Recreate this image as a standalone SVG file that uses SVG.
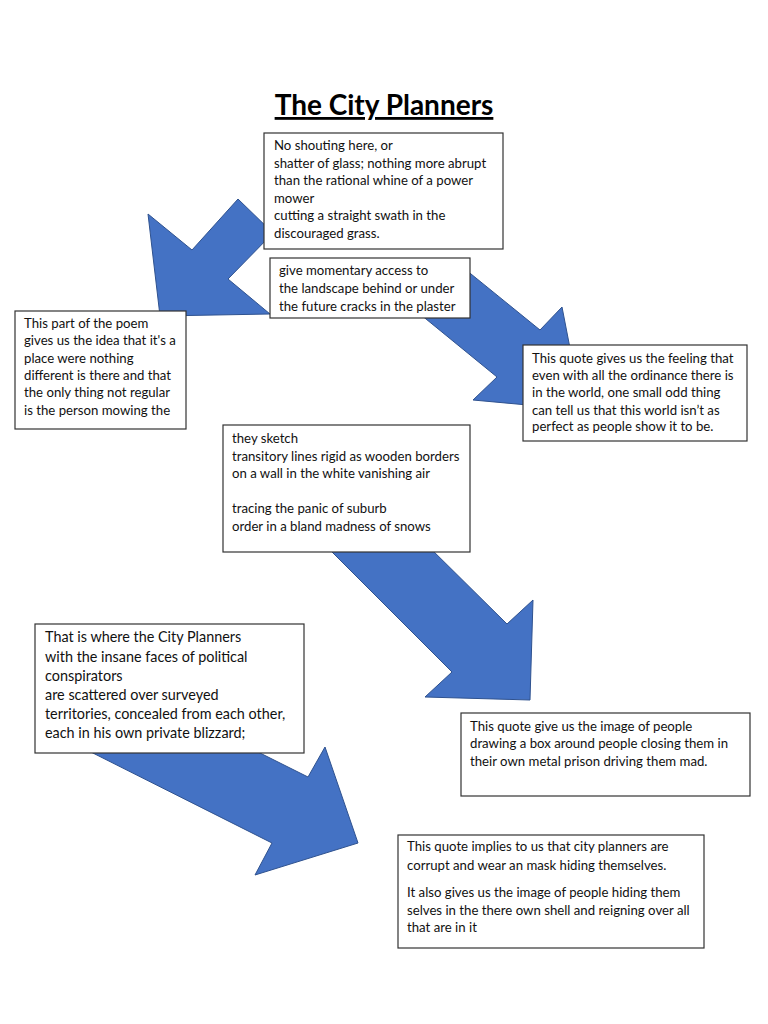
<svg xmlns="http://www.w3.org/2000/svg" width="768" height="1024" viewBox="0 0 768 1024">
<style>
.arrow{fill:#4472C4;stroke:#2F528F;stroke-width:1;stroke-linejoin:miter}
.box{fill:#ffffff;stroke:#333333;stroke-width:1.2}
.t{font-family:Lato,"Open Sans",sans-serif;font-size:13.2px;fill:#111111}
.t2{font-family:Lato,"Open Sans",sans-serif;font-size:14.4px;fill:#111111}
.title{font-family:Lato,"Open Sans",sans-serif;font-size:28px;font-weight:bold;fill:#000000}
</style>
<rect width="768" height="1024" fill="#ffffff"/>
<g id="title">
<text class="title" x="384" y="115" text-anchor="middle" text-decoration="underline">The City Planners</text>
</g>
<g id="connectors">
<polygon class="arrow" points="160,316 148,214 192,250 238,199 273,233 228,279 270,314"/>
<polygon class="arrow" points="455,261 540,330 562,307 582,410 473,400 497,377 415,310"/>
<polygon class="arrow" points="320,540 452,672 425,697 530,700 533,600 507,624 422,540"/>
<polygon class="arrow" points="67,740 272,843 255,875 358,843 325,747 308,777 234,740"/>
</g>
<g id="box-a">
<rect class="box" x="264" y="133" width="239" height="116"/>
<text class="t" x="274" y="150">No shouting here, or</text>
<text class="t" x="274" y="167.5">shatter of glass; nothing more abrupt</text>
<text class="t" x="274" y="185">than the rational whine of a power</text>
<text class="t" x="274" y="202.5">mower</text>
<text class="t" x="274" y="220">cutting a straight swath in the</text>
<text class="t" x="274" y="237.5">discouraged grass.</text>
</g>
<g id="box-b">
<rect class="box" x="270" y="258" width="200" height="60"/>
<text class="t" x="279" y="275">give momentary access to</text>
<text class="t" x="279" y="293">the landscape behind or under</text>
<text class="t" x="279" y="310.5">the future cracks in the plaster</text>
</g>
<g id="box-c">
<rect class="box" x="15" y="311" width="171" height="118"/>
<text class="t" x="24" y="327.5">This part of the poem</text>
<text class="t" x="24" y="345">gives us the idea that it's a</text>
<text class="t" x="24" y="362.5">place were nothing</text>
<text class="t" x="24" y="379.5">different is there and that</text>
<text class="t" x="24" y="397">the only thing not regular</text>
<text class="t" x="24" y="414.5">is the person mowing the</text>
</g>
<g id="box-d">
<rect class="box" x="523" y="345" width="224" height="96"/>
<text class="t" x="532" y="362.5">This quote gives us the feeling that</text>
<text class="t" x="532" y="380">even with all the ordinance there is</text>
<text class="t" x="532" y="397">in the world, one small odd thing</text>
<text class="t" x="532" y="414.5">can tell us that this world isn’t as</text>
<text class="t" x="532" y="431">perfect as people show it to be.</text>
</g>
<g id="box-e">
<rect class="box" x="223" y="425" width="247" height="127"/>
<text class="t" x="232" y="442.5">they sketch</text>
<text class="t" x="232" y="460.5">transitory lines rigid as wooden borders</text>
<text class="t" x="232" y="478">on a wall in the white vanishing air</text>
<text class="t" x="232" y="513">tracing the panic of suburb</text>
<text class="t" x="232" y="530.5">order in a bland madness of snows</text>
</g>
<g id="box-f">
<rect class="box" x="35" y="624" width="269" height="129"/>
<text class="t2" x="45" y="642">That is where the City Planners</text>
<text class="t2" x="45" y="662">with the insane faces of political</text>
<text class="t2" x="45" y="681">conspirators</text>
<text class="t2" x="45" y="699.5">are scattered over surveyed</text>
<text class="t2" x="45" y="718.5">territories, concealed from each other,</text>
<text class="t2" x="45" y="737.5">each in his own private blizzard;</text>
</g>
<g id="box-g">
<rect class="box" x="461" y="713" width="289" height="83"/>
<text class="t" x="470" y="730.5">This quote give us the image of people</text>
<text class="t" x="470" y="748">drawing a box around people closing them in</text>
<text class="t" x="470" y="765.5">their own metal prison driving them mad.</text>
</g>
<g id="box-h">
<rect class="box" x="398" y="835" width="306" height="113"/>
<text class="t" x="407" y="851">This quote implies to us that city planners are</text>
<text class="t" x="407" y="869.5">corrupt and wear an mask hiding themselves.</text>
<text class="t" x="407" y="896.5">It also gives us the image of people hiding them</text>
<text class="t" x="407" y="914.5">selves in the there own shell and reigning over all</text>
<text class="t" x="407" y="932">that are in it</text>
</g>
</svg>
